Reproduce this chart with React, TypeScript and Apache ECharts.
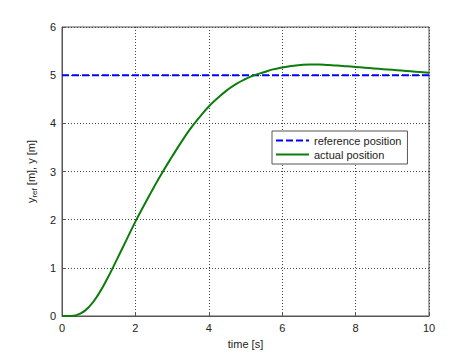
import React, { useEffect, useRef } from "react";
import * as echarts from "echarts";

const timeValues = [0, 0.25, 0.5, 0.75, 1.0, 1.25, 1.5, 1.75, 2.0, 2.25, 2.5, 2.75, 3.0, 3.25, 3.5, 3.75, 4.0, 4.25, 4.5, 4.75, 5.0, 5.25, 5.5, 5.75, 6.0, 6.25, 6.5, 6.75, 7.0, 7.25, 7.5, 7.75, 8.0, 8.25, 8.5, 8.75, 9.0, 9.25, 9.5, 9.75, 10.0];
const positionValues = [0, 0, 0.05, 0.2, 0.46, 0.8, 1.18, 1.57, 1.96, 2.32, 2.67, 3.0, 3.31, 3.61, 3.89, 4.13, 4.35, 4.53, 4.69, 4.82, 4.92, 5.0, 5.06, 5.12, 5.16, 5.19, 5.21, 5.22, 5.22, 5.21, 5.2, 5.185, 5.17, 5.155, 5.14, 5.125, 5.11, 5.095, 5.08, 5.065, 5.05];
const referenceTime = [0, 10];
const referenceValues = [5, 5];
const xTicks = [0, 2, 4, 6, 8, 10];
const yTicks = [0, 1, 2, 3, 4, 5, 6];

export default function App() {
  const ref = useRef<HTMLDivElement>(null);
  useEffect(() => {
    const chart = echarts.init(ref.current!, undefined, { renderer: "svg" });
    const font = "Liberation Sans, Arial, sans-serif";
    const gridLine = { show: true, lineStyle: { color: "#444", type: [1, 2] as any, width: 1 } };
    chart.setOption({
      animation: false,
      backgroundColor: "#fff",
      textStyle: { fontFamily: font },
      grid: { left: 62, right: 45, top: 27, bottom: 39, show: true, borderColor: "#555", borderWidth: 1 },
      legend: {
        orient: "vertical",
        left: 272,
        top: 131,
        backgroundColor: "#fff",
        borderColor: "#555",
        borderWidth: 1,
        borderRadius: 0,
        padding: [3, 6, 3, 3],
        itemWidth: 33,
        itemHeight: 10,
        itemGap: 1,
        itemStyle: { color: "transparent", borderWidth: 0, opacity: 0 },
        textStyle: { fontSize: 11, color: "#222", fontFamily: font, lineHeight: 13 },
        data: ["reference position", "actual position"],
      },
      xAxis: {
        type: "value",
        min: xTicks[0],
        max: xTicks[xTicks.length - 1],
        interval: 2,
        name: "time [s]",
        nameLocation: "middle",
        nameGap: 22,
        nameTextStyle: { fontSize: 11, color: "#222", fontFamily: font },
        axisLine: { show: true, lineStyle: { color: "#555" } },
        axisTick: { show: true, inside: true, length: 4, lineStyle: { color: "#555" } },
        axisLabel: { fontSize: 11, color: "#222", margin: 6, fontFamily: font },
        splitLine: gridLine,
      },
      yAxis: {
        type: "value",
        min: yTicks[0],
        max: yTicks[yTicks.length - 1],
        interval: 1,
        name: "{a|y}{s|ref}{a| [m], y [m]}",
        nameLocation: "middle",
        nameGap: 21,
        nameRotate: 90,
        nameTextStyle: {
          fontSize: 11,
          color: "#222",
          fontFamily: font,
          rich: {
            a: { fontSize: 11, color: "#222", fontFamily: font, lineHeight: 16, verticalAlign: "middle" },
            s: { fontSize: 8, color: "#222", fontFamily: font, lineHeight: 16, verticalAlign: "bottom", padding: [5, 0, 0, 0] },
          },
        },
        axisLine: { show: true, lineStyle: { color: "#555" } },
        axisTick: { show: true, inside: true, length: 4, lineStyle: { color: "#555" } },
        axisLabel: { fontSize: 11, color: "#222", margin: 6, fontFamily: font },
        splitLine: gridLine,
      },
      series: [
        {
          name: "reference position",
          type: "line",
          symbol: "none",
          data: referenceTime.map((t, i) => [t, referenceValues[i]]),
          lineStyle: { color: "#0000ff", width: 2, type: [7, 3] as any },
          itemStyle: { color: "#0000ff" },
        },
        {
          name: "actual position",
          type: "line",
          symbol: "none",
          smooth: true,
          data: timeValues.map((t, i) => [t, positionValues[i]]),
          lineStyle: { color: "#0b7d0b", width: 2 },
          itemStyle: { color: "#0b7d0b" },
        },
      ],
    });
    return () => chart.dispose();
  }, []);
  return <div ref={ref} style={{ position: "fixed", left: 0, top: 0, width: 474, height: 355 }} />;
}
